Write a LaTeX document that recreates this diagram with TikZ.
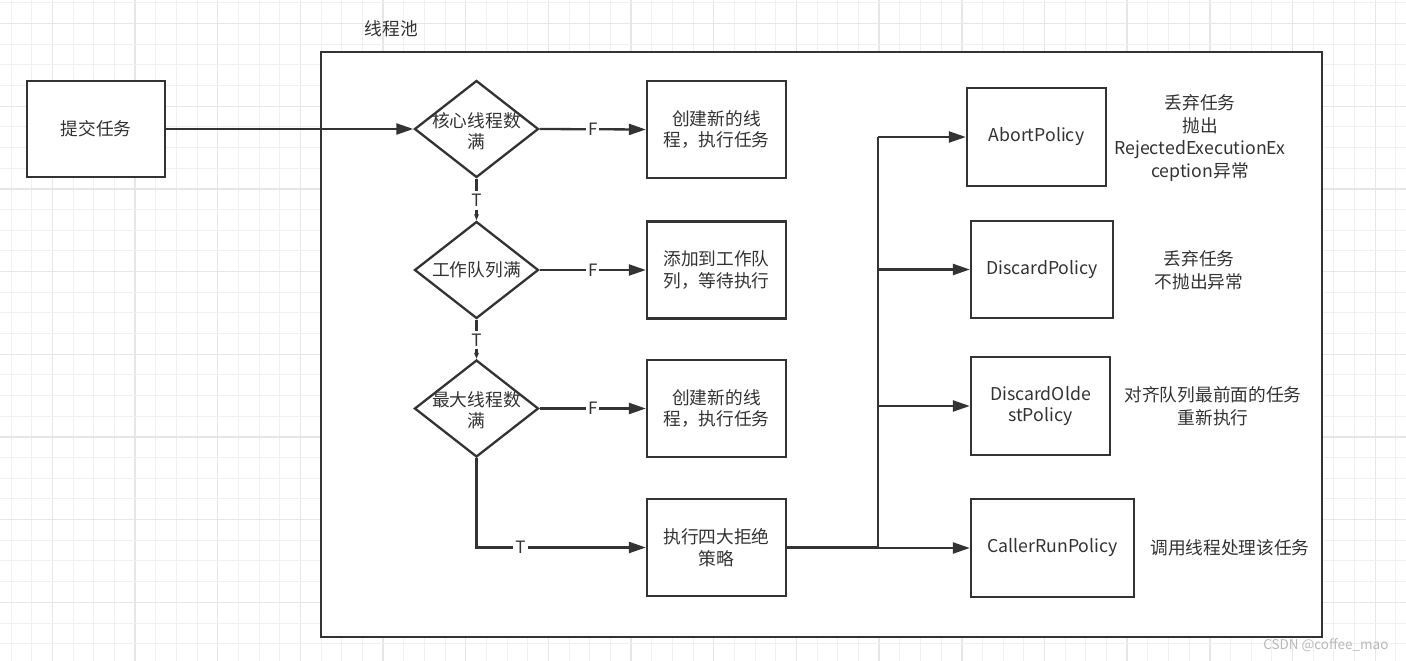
\documentclass[tikz,border=0pt]{standalone}
\usepackage{fontspec}
\setmainfont{Noto Sans CJK SC}
\usetikzlibrary{shapes.geometric,arrows.meta}
\definecolor{ink}{HTML}{333333}
\definecolor{gridthin}{HTML}{F0F0F0}
\definecolor{gridthick}{HTML}{E6E6E6}
\tikzset{
  box/.style={draw=ink,line width=2.3pt,fill=white,text=ink,align=center,inner sep=0pt,
    font=\fontsize{17.7}{21.5}\selectfont},
  dia/.style={diamond,draw=ink,line width=2.3pt,fill=white,inner sep=0pt,
    minimum width=124pt,minimum height=97pt},
  dtext/.style={text=ink,align=center,font=\fontsize{17.7}{21}\selectfont},
  arr/.style={draw=ink,line width=2.3pt,-{Triangle[length=17pt,width=11pt]}},
  smallarr/.style={draw=ink,line width=2.3pt,-{Triangle[length=6pt,width=4.5pt]}},
  plain/.style={draw=ink,line width=2.3pt},
  trunk/.style={draw=ink,line width=3pt},
  lbl/.style={fill=white,text=ink,inner xsep=2pt,inner ysep=3pt,font=\fontsize{17}{19}\selectfont},
  desc/.style={text=ink,align=center,font=\fontsize{17.7}{22.8}\selectfont},
}
\begin{document}
\begin{tikzpicture}[x=1pt,y=-1pt]
\useasboundingbox (0,0) rectangle (1406,661);
\fill[white] (0,0) rectangle (1406,661);
% grid
\foreach \k in {0,...,68}{
  \pgfmathsetmacro{\gx}{11+20.67*\k}
  \pgfmathtruncatemacro{\m}{mod(\k,4)}
  \ifnum\m=2
    \draw[gridthick,line width=1.4pt] (\gx,0) -- (\gx,661);
  \else
    \draw[gridthin,line width=1pt] (\gx,0) -- (\gx,661);
  \fi
}
\foreach \k in {0,...,32}{
  \pgfmathsetmacro{\gy}{2.9+20.67*\k}
  \pgfmathtruncatemacro{\m}{mod(\k,4)}
  \ifnum\m=1
    \draw[gridthick,line width=1.4pt] (0,\gy) -- (1406,\gy);
  \else
    \draw[gridthin,line width=1pt] (0,\gy) -- (1406,\gy);
  \fi
}
% pool frame
\node[box,minimum width=1001pt,minimum height=585pt] (pool) at (821.5,344.5) {};
\node[dtext] (pooltitle) at (391.5,29) {线程池};

\node[box,minimum width=138pt,minimum height=96pt] (submit) at (96,129) {提交任务};

\node[dia] (d1) at (476.5,129) {};
\node[dtext] (d1t) at (476.5,131) {核心线程数\\满};
\node[dia] (d2) at (476.5,270) {};
\node[dtext] (d2t) at (476.5,270) {工作队列满};
\node[dia] (d3) at (476.5,408.5) {};
\node[dtext] (d3t) at (476.5,410) {最大线程数\\满};

\node[box,minimum width=139pt,minimum height=97pt] (b1) at (716.5,129.5) {创建新的线\\程，执行任务};
\node[box,minimum width=139pt,minimum height=97pt] (b2) at (716.5,270) {添加到工作队\\列，等待执行};
\node[box,minimum width=139pt,minimum height=97pt] (b3) at (716.5,408.5) {创建新的线\\程，执行任务};
\node[box,minimum width=139pt,minimum height=97pt] (b4) at (716.5,547.5) {执行四大拒绝\\策略};

\node[box,minimum width=139pt,minimum height=98pt] (abort) at (1036.5,137) {AbortPolicy};
\node[box,minimum width=142pt,minimum height=97pt] (discard) at (1042,269.5) {DiscardPolicy};
\node[box,minimum width=139pt,minimum height=98pt] (oldest) at (1040.5,406) {DiscardOlde\\stPolicy};
\node[box,minimum width=163pt,minimum height=98pt] (caller) at (1052.5,548) {CallerRunPolicy};

\node[desc] (abortd) at (1200,138) {丢弃任务\\抛出\\RejectedExecutionEx\\ception异常};
\node[desc] (discardd) at (1199,270) {丢弃任务\\不抛出异常};
\node[desc] (oldestd) at (1213,406) {对齐队列最前面的任务\\重新执行};
\node[desc] (callerd) at (1230,548) {调用线程处理该任务};

% connectors
\draw[arr] (submit.east) -- (d1.west);
\draw[arr] (d1.east) -- node[lbl,pos=0.5]{F} (b1.west);
\draw[arr] (d2.east) -- node[lbl,pos=0.5]{F} (b2.west);
\draw[arr] (d3.east) -- node[lbl,pos=0.5]{F} (b3.west);
\draw[smallarr] (d1.south) -- node[lbl,pos=0.52]{T} (d2.north);
\draw[smallarr] (d2.south) -- node[lbl,pos=0.52]{T} (d3.north);
\draw[arr] (d3.south) |- node[lbl,pos=0.63]{T} (b4.west);

\coordinate (j) at (878,547.5);
\draw[trunk] (b4.east) -- (j);
\draw[plain] (j) -- (j |- abort.west);
\draw[arr] (j |- abort.west) -- (abort.west);
\draw[arr] (j |- discard.west) -- (discard.west);
\draw[arr] (j |- oldest.west) -- (oldest.west);
\draw[arr] (j |- caller.west) -- (caller.west);

\node[text=gray!55,anchor=east,font=\fontsize{13.5}{15}\selectfont] (wm) at (1392,645) {CSDN @coffee\_mao};
\end{tikzpicture}
\end{document}
